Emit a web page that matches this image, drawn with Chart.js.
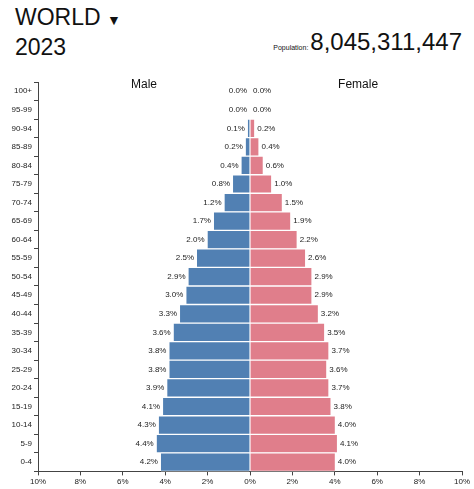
<!DOCTYPE html>
<html><head><meta charset="utf-8">
<script src="https://cdn.jsdelivr.net/npm/chart.js@4"></script>
<style>
body{margin:0;background:#fff;font-family:"Helvetica Neue",Arial,"Liberation Sans",sans-serif;color:#111;}
#hdr{position:absolute;left:15px;top:4px;font-size:23px;line-height:27px;}
#pop{position:absolute;right:12px;top:28px;font-size:24px;}
#pop small{font-size:7px;}
#wrap{position:absolute;left:0;top:72px;width:474px;height:417px;}
</style></head><body>
<div id="hdr">WORLD <span style="font-size:14px">&#9660;</span><br>2023</div>
<div id="pop"><small>Population: </small>8,045,311,447</div>
<div id="wrap"><canvas id="c"></canvas></div>
<script>
const ageGroups=["100+","95-99","90-94","85-89","80-84","75-79","70-74","65-69","60-64","55-59","50-54","45-49","40-44","35-39","30-34","25-29","20-24","15-19","10-14","5-9","0-4"];
const male=[0.0,0.0,0.1,0.2,0.4,0.8,1.2,1.7,2.0,2.5,2.9,3.0,3.3,3.6,3.8,3.8,3.9,4.1,4.3,4.4,4.2];
const female=[0.0,0.0,0.2,0.4,0.6,1.0,1.5,1.9,2.2,2.6,2.9,2.9,3.2,3.5,3.7,3.6,3.7,3.8,4.0,4.1,4.0];
const xTicks=[-10,-8,-6,-4,-2,0,2,4,6,8,10];
const labelPlugin={id:'lbl',afterDatasetsDraw(ch){
 const c=ch.ctx,a=ch.chartArea;c.save();c.font='8px Arial';c.fillStyle='#222';c.textBaseline='middle';
 ch.getDatasetMeta(0).data.forEach((b,i)=>{c.textAlign='right';c.fillText(male[i].toFixed(1)+'%',b.x-3,b.y);});
 ch.getDatasetMeta(1).data.forEach((b,i)=>{c.textAlign='left';c.fillText(female[i].toFixed(1)+'%',b.x+3,b.y);});
 c.font='12px Arial';c.textAlign='center';c.fillStyle='#111';
 c.fillText('Male',ch.scales.x.getPixelForValue(-5),a.top+3);
 c.fillText('Female',ch.scales.x.getPixelForValue(5.1),a.top+3);
 c.restore();}};
new Chart(document.getElementById('c'),{type:'bar',
 data:{labels:ageGroups,datasets:[
  {label:'Male',data:male.map(v=>-v),backgroundColor:'#5180b3',borderColor:'#fff',borderWidth:{top:1,bottom:1},borderSkipped:false},
  {label:'Female',data:female,backgroundColor:'#e07e8b',borderColor:'#fff',borderWidth:{top:1,bottom:1},borderSkipped:false}]},
 options:{indexAxis:'y',responsive:true,maintainAspectRatio:false,animation:false,
  layout:{padding:{top:10,right:12,left:0,bottom:0}},
  datasets:{bar:{barPercentage:1,categoryPercentage:1}},
  plugins:{legend:{display:false},tooltip:{enabled:false}},
  scales:{
   x:{stacked:true,min:-10,max:10,afterBuildTicks(s){s.ticks=xTicks.map(v=>({value:v}));},
     grid:{display:true,drawOnChartArea:false,drawTicks:true,tickLength:4,color:'#444'},border:{color:'#444'},
     ticks:{font:{size:8},color:'#222',padding:2,callback:v=>Math.abs(v)+'%'}},
   y:{stacked:true,afterFit(s){s.width=38;},
     grid:{display:true,drawOnChartArea:false,tickLength:4,color:'#444'},border:{color:'#444'},
     ticks:{font:{size:8},color:'#222',padding:2}}}},
 plugins:[labelPlugin]});
</script></body></html>
